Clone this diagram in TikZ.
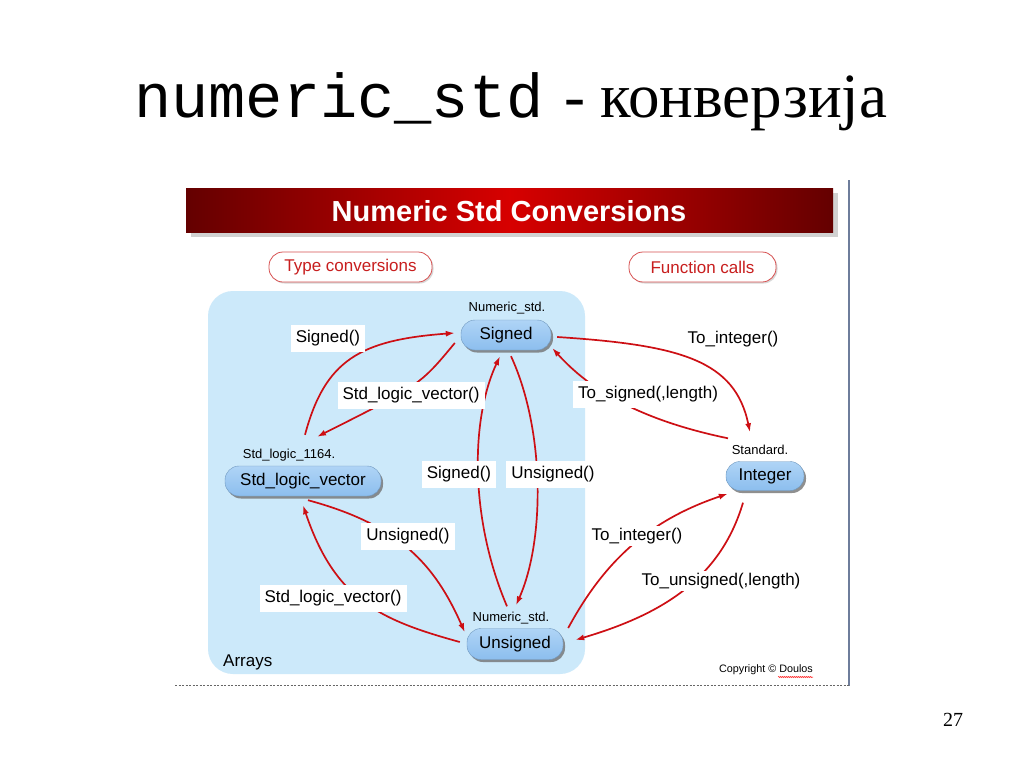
\documentclass[tikz,border=0pt]{standalone}
\usepackage{fontspec}
\setmainfont{Liberation Sans}
\newfontfamily\monofont{Liberation Mono}
\newfontfamily\seriffont{Liberation Serif}
\usetikzlibrary{shadows,arrows.meta,decorations.pathmorphing}

\definecolor{barDark}{RGB}{100,0,0}
\definecolor{barRed}{RGB}{215,0,0}
\definecolor{regionBlue}{RGB}{204,233,250}
\definecolor{pillTop}{RGB}{175,212,246}
\definecolor{pillBot}{RGB}{140,190,238}
\definecolor{arrRed}{RGB}{205,15,20}
\definecolor{ovalRed}{RGB}{215,80,80}
\definecolor{ovalText}{RGB}{200,30,30}
\definecolor{frameBlue}{RGB}{110,125,155}

\begin{document}
\begin{tikzpicture}[x=1pt,y=-1pt,
  pill/.style={rectangle, rounded corners=14pt, top color=pillTop, bottom color=pillBot,
    draw=pillBot!80!black, line width=0.4pt,
    drop shadow={shadow xshift=2pt,shadow yshift=-2.5pt,fill=black!55,opacity=0.8},
    font=\fontsize{17}{20}\selectfont, minimum height=30pt, inner sep=0pt},
  typ/.style={font=\fontsize{13}{15}\selectfont, inner sep=1pt},
  elab/.style={fill=white, font=\fontsize{17}{20}\selectfont, minimum height=27pt,
    inner xsep=5pt, inner ysep=0pt},
  arr/.style={draw=arrRed, line width=1.7pt, -{Latex[length=9pt,width=6pt]}},
  oval/.style={rectangle, rounded corners=14pt, draw=ovalRed, line width=0.8pt, fill=white,
    text=ovalText, font=\fontsize{17}{20}\selectfont, minimum height=30pt,
    drop shadow={shadow xshift=1.5pt,shadow yshift=-1.5pt,fill=black!25,opacity=0.6}}
]
\useasboundingbox (0,0) rectangle (1024,768);
\fill[white] (0,0) rectangle (1024,768);

% slide title
\node[anchor=base west, inner sep=0pt, font=\monofont\fontsize{62}{70}\selectfont] (tmono) at (134,117) {numeric\_std};
\node[anchor=base west, inner sep=0pt, font=\seriffont\fontsize{63}{70}\selectfont] (tcyr) at (564,117) {- конверзија};
\node[anchor=base, inner sep=0pt, font=\seriffont\fontsize{20}{24}\selectfont] (pg) at (953,726) {27};

% picture frame
\draw[frameBlue, line width=1.6pt] (849,180) -- (849,686);
\draw[black!60, line width=0.8pt, dash pattern=on 2pt off 1.5pt] (175,685) -- (849,685);

% title bar
\fill[black!18] (191,193) rectangle (838,237);
\shade[left color=barDark, right color=barDark, middle color=barRed] (186,188) rectangle (833,232);
\node[font=\bfseries\fontsize{29}{34}\selectfont, text=white] (bartitle) at (509,211) {Numeric Std Conversions};

% ovals
\node[oval, minimum width=163pt] (tc) at (350.5,267) {Type conversions};
\node[oval, minimum width=147pt] (fc) at (702.5,267) {Function calls};

% arrays region
\fill[regionBlue, rounded corners=25pt] (208,291) rectangle (585,674);
\node[anchor=base west, font=\fontsize{17}{20}\selectfont, inner sep=0pt] (arrays) at (223,666) {Arrays};

% type nodes
\node[pill, minimum width=90pt] (sgn) at (506,335) {Signed};
\node[pill, minimum width=156pt] (slv) at (303,481) {Std\_logic\_vector};
\node[pill, minimum width=78pt, minimum height=29pt] (int) at (765,476) {Integer};
\node[pill, minimum width=96pt, minimum height=31pt] (uns) at (515,644) {Unsigned};

\node[typ] (sgnt) at (507,308) {Numeric\_std.};
\node[typ] (slvt) at (289,455) {Std\_logic\_1164.};
\node[typ] (intt) at (760,450) {Standard.};
\node[typ] (unst) at (511,618) {Numeric\_std.};

% connectors
\draw[arr] ([xshift=2pt,yshift=31pt]slv.north) .. controls (325,360) and (360,340) .. ([xshift=-6pt,yshift=2pt]sgn.west);
\draw[arr] ([xshift=-6pt,yshift=-8pt]sgn.west) .. controls (420,385) .. ([xshift=14pt,yshift=29pt]slv.north);
\draw[arr] ([xshift=-8pt,yshift=22pt]uns.north) .. controls (470,520) and (470,420) .. ([xshift=-6pt,yshift=-6pt]sgn.south);
\draw[arr] ([xshift=5pt,yshift=-6pt]sgn.south) .. controls (545,430) and (545,540) .. ([xshift=1pt,yshift=23pt]uns.north);
\draw[arr] ([xshift=6pt,yshift=-2pt]sgn.east) .. controls (680,345) and (735,360) .. ([xshift=-15pt,yshift=29pt]int.north);
\draw[arr] ([xshift=-37pt,yshift=23pt]int.north) .. controls (640,420) and (590,390) .. ([xshift=1pt,yshift=-13pt]sgn.east);
\draw[arr] ([xshift=5pt,yshift=-4pt]slv.south) .. controls (400,525) and (435,565) .. ([xshift=-2pt,yshift=-4pt]uns.north west);
\draw[arr] ([xshift=-7pt,yshift=2pt]uns.west) .. controls (380,620) and (335,600) .. ([yshift=-9pt]slv.south);
\draw[arr] ([xshift=5pt,yshift=16pt]uns.east) .. controls (605,560) and (650,520) .. ([xshift=2pt,yshift=-3pt]int.south west);
\draw[arr] ([xshift=-22pt,yshift=-12pt]int.south) .. controls (720,580) and (660,615) .. ([xshift=12pt,yshift=4pt]uns.east);

% connector labels
\node[elab] (l1) at (328,338) {Signed()};
\node[elab] (l2) at (411,395) {Std\_logic\_vector()};
\node[elab] (l3) at (459,474) {Signed()};
\node[elab] (l4) at (553,474) {Unsigned()};
\node[elab, fill=none] (l5) at (733,339) {To\_integer()};
\node[elab] (l6) at (648,394) {To\_signed(,length)};
\node[elab] (l7) at (408,536) {Unsigned()};
\node[elab] (l8) at (333,598) {Std\_logic\_vector()};
\node[elab, minimum height=20pt] (l9) at (637,536) {To\_integer()};
\node[elab, minimum height=20pt] (l10) at (721,581) {To\_unsigned(,length)};

% copyright
\node[font=\fontsize{10.8}{13}\selectfont, inner sep=0pt] (copy) at (766,670) {Copyright © Doulos};
\draw[red, line width=0.5pt, decorate, decoration={snake, amplitude=0.6pt, segment length=2pt}]
  ([xshift=-35pt,yshift=-7pt]copy.east) -- ([yshift=-7pt]copy.east);
\end{tikzpicture}
\end{document}
